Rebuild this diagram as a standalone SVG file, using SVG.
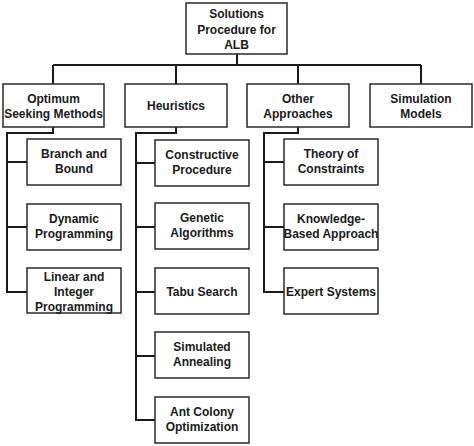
<svg xmlns="http://www.w3.org/2000/svg" width="474" height="446" viewBox="0 0 474 446">
<style>
.box{fill:#fff;stroke:#2a2a2a;stroke-width:1.5}
.t{font-family:"Liberation Sans",Arial,sans-serif;font-weight:bold;font-size:12px;fill:#1a1a1a;text-anchor:middle}
.c{fill:none;stroke:#1a1a1a;stroke-width:2}
</style>
<rect width="474" height="446" fill="#fff"/>
<g id="connectors">
<path class="c" d="M237,54V65M53,65H421M53,65V84M176,65V84M298,65V84M421,65V84"/>
<path class="c" d="M53,127V133H7V292H27M7,162H27M7,227H27"/>
<path class="c" d="M176,127V133H136V420H155M136,163H155M136,227H155M136,292H155M136,356H155"/>
<path class="c" d="M298,127V133H264V292H284M264,162H284M264,227H284"/>
</g>
<g id="root"><rect class="box" x="186" y="3" width="101" height="51"/>
<text class="t" x="236.5" y="18">Solutions</text><text class="t" x="236.5" y="33.5">Procedure for</text><text class="t" x="236.5" y="49">ALB</text></g>
<g id="optimum"><rect class="box" x="3" y="84" width="101" height="43"/>
<text class="t" x="53.5" y="103">Optimum</text><text class="t" x="53.5" y="117.5">Seeking Methods</text></g>
<g id="heuristics"><rect class="box" x="125" y="84" width="102" height="43"/>
<text class="t" x="176" y="110">Heuristics</text></g>
<g id="other"><rect class="box" x="247" y="84" width="102" height="43"/>
<text class="t" x="298" y="103">Other</text><text class="t" x="298" y="117.5">Approaches</text></g>
<g id="simulation"><rect class="box" x="370" y="84" width="102" height="43"/>
<text class="t" x="421" y="103">Simulation</text><text class="t" x="421" y="117.5">Models</text></g>
<g id="branch"><rect class="box" x="27" y="139" width="94" height="46"/>
<text class="t" x="74" y="158">Branch and</text><text class="t" x="74" y="173">Bound</text></g>
<g id="dynamic"><rect class="box" x="27" y="204" width="94" height="46"/>
<text class="t" x="74" y="223">Dynamic</text><text class="t" x="74" y="238">Programming</text></g>
<g id="linear"><rect class="box" x="27" y="268" width="94" height="45"/>
<text class="t" x="74" y="281">Linear and</text><text class="t" x="74" y="296">Integer</text><text class="t" x="74" y="310.5">Programming</text></g>
<g id="constructive"><rect class="box" x="155" y="140" width="94" height="46"/>
<text class="t" x="202" y="159">Constructive</text><text class="t" x="202" y="174">Procedure</text></g>
<g id="genetic"><rect class="box" x="155" y="203" width="94" height="46"/>
<text class="t" x="202" y="222">Genetic</text><text class="t" x="202" y="237">Algorithms</text></g>
<g id="tabu"><rect class="box" x="155" y="268" width="94" height="46"/>
<text class="t" x="202" y="295.5">Tabu Search</text></g>
<g id="simulated"><rect class="box" x="155" y="332" width="94" height="46"/>
<text class="t" x="202" y="351">Simulated</text><text class="t" x="202" y="366">Annealing</text></g>
<g id="antcolony"><rect class="box" x="155" y="397" width="94" height="46"/>
<text class="t" x="202" y="416">Ant Colony</text><text class="t" x="202" y="431">Optimization</text></g>
<g id="theory"><rect class="box" x="284" y="139" width="94" height="46"/>
<text class="t" x="331" y="158">Theory of</text><text class="t" x="331" y="173">Constraints</text></g>
<g id="knowledge"><rect class="box" x="284" y="204" width="94" height="46"/>
<text class="t" x="331" y="223">Knowledge-</text><text class="t" x="331" y="238">Based Approach</text></g>
<g id="expert"><rect class="box" x="284" y="268" width="94" height="46"/>
<text class="t" x="331" y="295.5">Expert Systems</text></g>
</svg>
